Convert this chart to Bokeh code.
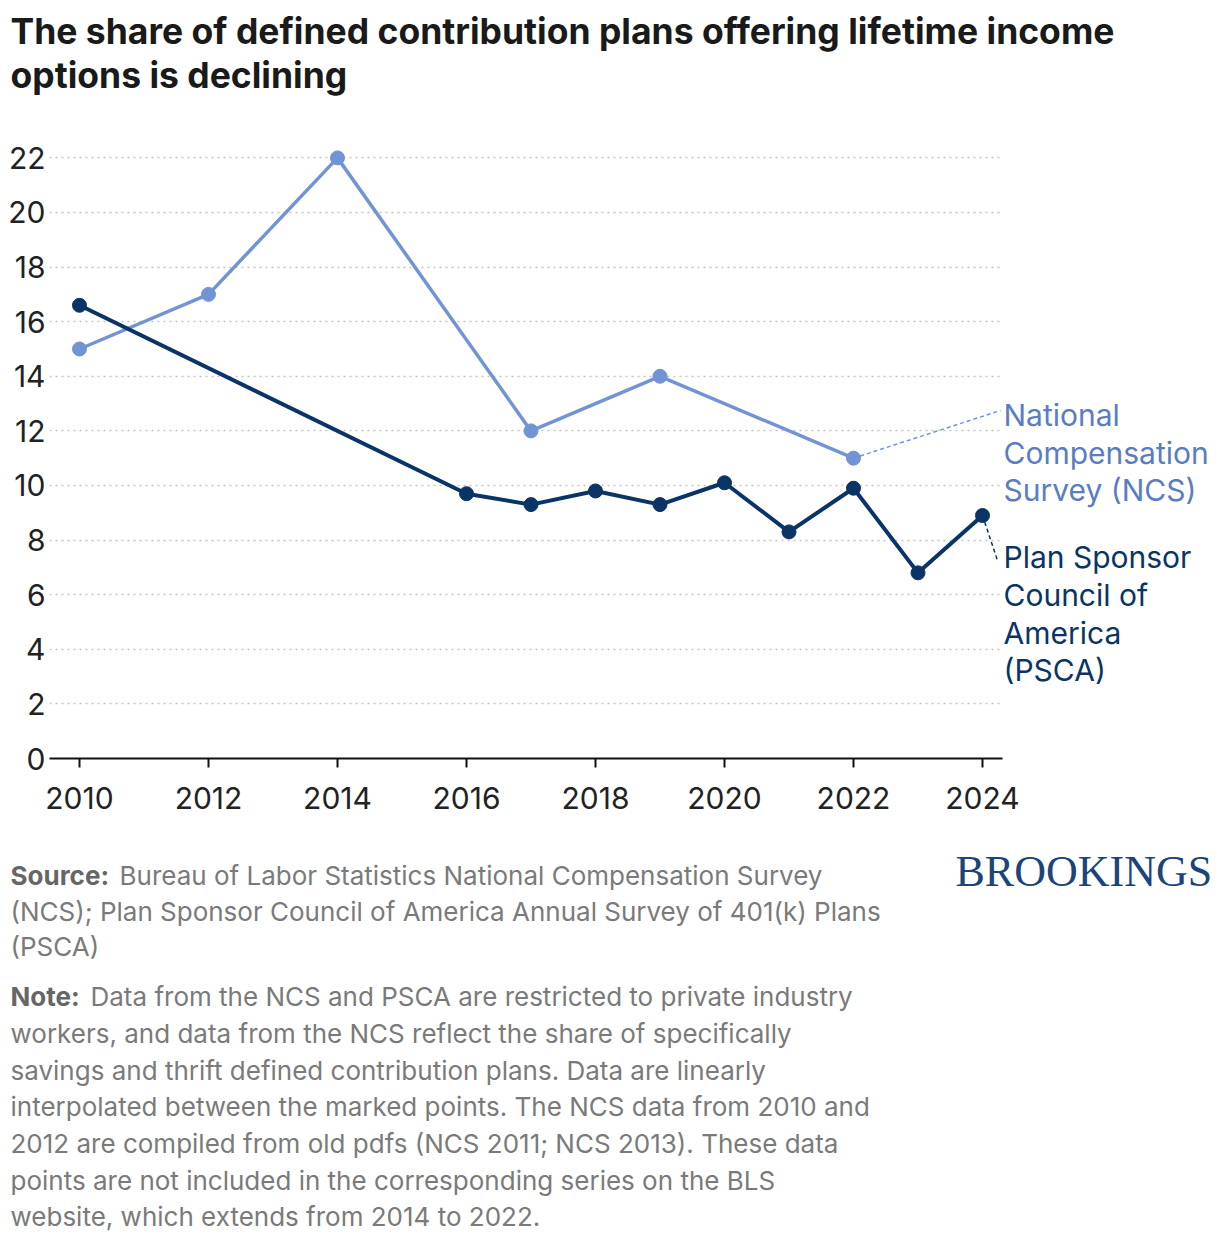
from bokeh.plotting import figure
from bokeh.models import Range1d, FixedTicker
from bokeh.layouts import column
from bokeh.core.properties import value
from bokeh.embed import file_html
from bokeh.resources import INLINE

# ---- data ----
ncs_years = [2010, 2012, 2014, 2017, 2019, 2022]
ncs_values = [15, 17, 22, 12, 14, 11]
psca_years = [2010, 2016, 2017, 2018, 2019, 2020, 2021, 2022, 2023, 2024]
psca_values = [16.6, 9.7, 9.3, 9.8, 9.3, 10.1, 8.3, 9.9, 6.8, 8.9]
x_ticks = [2010, 2012, 2014, 2016, 2018, 2020, 2022, 2024]
y_ticks = [0, 2, 4, 6, 8, 10, 12, 14, 16, 18, 20, 22]

title_lines = ["The share of defined contribution plans offering lifetime income",
               "options is declining"]
ncs_label = ["National", "Compensation", "Survey (NCS)"]
psca_label = ["Plan Sponsor", "Council of", "America", "(PSCA)"]
source_rest = ["Bureau of Labor Statistics National Compensation Survey",
               "(NCS); Plan Sponsor Council of America Annual Survey of 401(k) Plans",
               "(PSCA)"]
note_lines = ["Data from the NCS and PSCA are restricted to private industry",
              "workers, and data from the NCS reflect the share of specifically",
              "savings and thrift defined contribution plans. Data are linearly",
              "interpolated between the marked points. The NCS data from 2010 and",
              "2012 are compiled from old pdfs (NCS 2011; NCS 2013). These data",
              "points are not included in the corresponding series on the BLS",
              "website, which extends from 2014 to 2022."]

NCS_COLOR = "#7294d4"
NCS_TEXT = "#5a7dc2"
PSCA_COLOR = "#0a3466"
FONT = "Inter"
W = 1220
BASE_SHIFT = 0.375   # compensation for how the alphabetic baseline is placed

# ---------- layout geometry (pixels) ----------
HEADER_H = 133
MAIN_TOP, MAIN_BOTTOM = 133, 830
FOOTER_BOTTOM = 1240
FRAME_L, FRAME_T, FRAME_B = 49, 141, 758
X0, X1 = 2009.535, 2024.31          # data span of the visible axis
DATA_RIGHT_PX = 1002
px_per_year = (DATA_RIGHT_PX - FRAME_L) / (X1 - X0)
X_END = X0 + (W - FRAME_L) / px_per_year
Y_TOP = 22.6


def no_align(f):
    try:
        f.frame_align = False
    except AttributeError:
        pass


def blank_fig(h, y0):
    f = figure(width=W, height=h, output_backend="svg", toolbar_location=None, tools="",
               x_range=Range1d(0, W), y_range=Range1d(y0 + h, y0),
               x_axis_type=None, y_axis_type=None, min_border=0)
    f.outline_line_color = None
    f.background_fill_color = "white"
    f.border_fill_color = "white"
    no_align(f)
    return f


def txt(f, x, y, s, size, color, style="normal", font=FONT):
    f.text(x=[x], y=[y], text=[s], text_font=value(font), text_font_size=f"{size}px",
           text_font_style=style, text_color=color, text_baseline="alphabetic",
           text_align="left")


# ---------- header ----------
header = blank_fig(HEADER_H, 0)
TS = 35.5
for i, t in enumerate(title_lines):
    txt(header, 10, 44 + i * 44 - BASE_SHIFT * TS, t, TS, "#1a1a1a", "bold")

# ---------- main chart ----------
main_h = MAIN_BOTTOM - MAIN_TOP
p = figure(width=W, height=main_h, output_backend="svg", toolbar_location=None, tools="",
           x_range=Range1d(X0, X_END), y_range=Range1d(0, Y_TOP),
           min_border_left=FRAME_L, min_border_right=0,
           min_border_top=FRAME_T - MAIN_TOP, min_border_bottom=MAIN_BOTTOM - FRAME_B)
p.outline_line_color = None
p.background_fill_color = "white"
p.border_fill_color = "white"
no_align(p)

p.xaxis.ticker = FixedTicker(ticks=x_ticks)
p.yaxis.ticker = FixedTicker(ticks=y_ticks)
p.xaxis.bounds = (X0, X1)
p.xaxis.minor_tick_line_color = None
p.yaxis.minor_tick_line_color = None
p.xaxis.axis_line_color = "#111111"
p.xaxis.axis_line_width = 2
p.xaxis.major_tick_line_color = "#111111"
p.xaxis.major_tick_line_width = 2
p.xaxis.major_tick_out = 9
p.xaxis.major_tick_in = 0
p.xaxis.major_label_standoff = 19
p.yaxis.axis_line_color = None
p.yaxis.major_tick_line_color = None
p.yaxis.major_tick_out = 0
p.yaxis.major_tick_in = 0
p.yaxis.major_label_standoff = 4
for ax in (p.xaxis, p.yaxis):
    ax.major_label_text_font = FONT
    ax.major_label_text_font_size = "30px"
    ax.major_label_text_color = "#222222"

p.xgrid.grid_line_color = None
try:
    p.ygrid.cross_bounds = (X0, X1)
    p.ygrid.grid_line_color = "#c4c4c4"
    p.ygrid.grid_line_dash = "2 4"
    p.ygrid.grid_line_width = 1.5
except AttributeError:
    p.ygrid.grid_line_color = None
    gy = [v for v in y_ticks if v > 0]
    p.segment(x0=[X0] * len(gy), x1=[X1] * len(gy), y0=gy, y1=gy,
              line_color="#c4c4c4", line_dash="2 4", line_width=1.5)


def X(px):
    return X0 + (px - FRAME_L) / px_per_year


def Y(py):
    return (FRAME_B - py) / (FRAME_B - FRAME_T) * Y_TOP


# series
p.line(ncs_years, ncs_values, line_color=NCS_COLOR, line_width=3.5)
p.scatter(ncs_years, ncs_values, size=14, fill_color=NCS_COLOR, line_color=NCS_COLOR)
p.line(psca_years, psca_values, line_color=PSCA_COLOR, line_width=4)
p.scatter(psca_years, psca_values, size=14, fill_color=PSCA_COLOR, line_color=PSCA_COLOR)

# connectors to series labels
p.line([ncs_years[-1], X(1000)], [ncs_values[-1], Y(410)],
       line_color=NCS_COLOR, line_width=1.5, line_dash="4 3")
p.line([psca_years[-1], X(997)], [psca_values[-1], Y(560)],
       line_color=PSCA_COLOR, line_width=1.5, line_dash="4 3")

# series labels
LS = 30
for i, t in enumerate(ncs_label):
    txt(p, X(1003), Y(426 + i * 37.5 - BASE_SHIFT * LS), t, LS, NCS_TEXT)
for i, t in enumerate(psca_label):
    txt(p, X(1003), Y(568 + i * 37.7 - BASE_SHIFT * LS), t, LS, PSCA_COLOR)

# ---------- footer ----------
footer = blank_fig(FOOTER_BOTTOM - MAIN_BOTTOM, MAIN_BOTTOM)
GRAY_B, GRAY = "#666666", "#7a7a7a"
FS = 26
sh = BASE_SHIFT * FS
txt(footer, 10, 885 - sh, "Source:", FS, GRAY_B, "bold")
txt(footer, 119, 885 - sh, source_rest[0], FS, GRAY)
for i, t in enumerate(source_rest[1:]):
    txt(footer, 10, 885 + (i + 1) * 35.6 - sh, t, FS, GRAY)
txt(footer, 10, 1006 - sh, "Note:", FS, GRAY_B, "bold")
txt(footer, 90, 1006 - sh, note_lines[0], FS, GRAY)
for i, t in enumerate(note_lines[1:]):
    txt(footer, 10, 1006 + (i + 1) * 36.67 - sh, t, FS, GRAY)
LG = 44
txt(footer, 955, 887 - BASE_SHIFT * LG, "BROOKINGS", LG, "#1d4479", "normal", "Liberation Serif")

layout = column(header, p, footer, spacing=0)
open("out.html", "w").write(file_html(layout, INLINE))
